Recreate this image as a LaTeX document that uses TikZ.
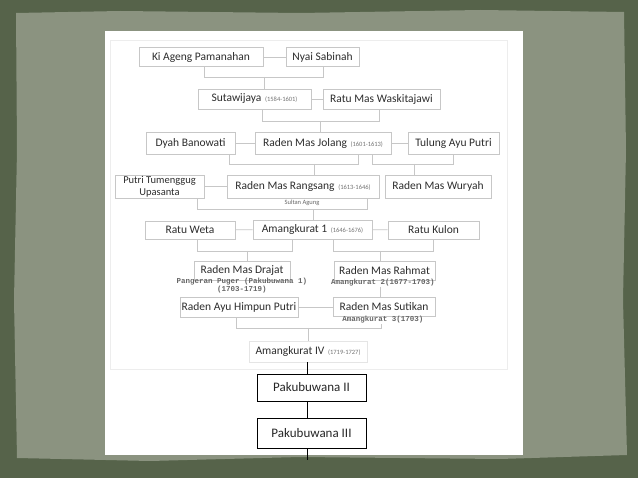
\documentclass[tikz,border=0pt]{standalone}
\usepackage{fontspec}
\setmainfont{Carlito}
\newfontfamily\notefont{Liberation Mono}
\definecolor{bgdark}{RGB}{86,99,74}
\definecolor{bgpanel}{RGB}{139,147,128}
\definecolor{txtgray}{RGB}{45,45,45}
\tikzset{
  person/.style = {draw=black!22, line width=0.8pt, fill=white, text=txtgray,
                   minimum width=#1, minimum height=19pt, inner sep=0pt,
                   font=\fontsize{11.5}{12}\selectfont},
  person/.default = 90pt,
  link/.style = {draw=black!22, line width=0.8pt},
  note/.style = {text=black!60, inner sep=0pt, align=center,
                 font=\notefont\bfseries\fontsize{7.5}{6.5}\selectfont},
  pbox/.style = {draw=black, line width=0.9pt, fill=white, text=black!85,
                 minimum width=109pt, inner sep=0pt,
                 font=\fontsize{13}{14}\selectfont}
}

\begin{document}
\begin{tikzpicture}[x=1pt,y=-1pt]
	\def\yr#1{{\fontsize{6.5}{7}\selectfont\color{black!55}\,(#1)}}

	\useasboundingbox (0,0) rectangle (638,478);

	% Background
	\fill[bgdark] (0,0) rectangle (638,478);
	\fill[bgpanel] (16,13) -- (120,11) -- (300,13) -- (480,10) -- (624,12) -- (626,150)
		-- (623,300) -- (627,455) -- (500,459) -- (300,457) -- (150,461) -- (17,458)
		-- (14,300) -- (17,150) -- cycle;
	\fill[white] (105,31) rectangle (523,455);
	\draw[black!7] (110,40) rectangle (507,369);

	% Ki Ageng Pamanahan
	\node[person=124pt] (ki) at (201,57) {Ki Ageng Pamanahan};
	\node[person=73pt] (nyai) at (322.5,57) {Nyai Sabinah};
	\draw[link] (ki) -- (nyai);

	% Sutawijaya
	\node[person=113pt, minimum height=20pt] (suta) at (254.5,99) {Sutawijaya \yr{1584-1601}};
	\node[person=117pt, minimum height=20pt] (wask) at (381.5,99) {Ratu Mas Waskitajawi};
	\draw[link] (suta) -- (wask);
	\coordinate (j1l) at (204,77);
	\coordinate (j1r) at (323,77);
	\coordinate (j1) at (264,77);
	\draw[link] (j1l |- ki.south) -- (j1l) -- (j1r) -- (j1r |- nyai.south);
	\draw[link] (j1) -- (j1 |- suta.north);

	% Raden Mas Jolang
	\node[person=89pt, minimum height=22pt] (dyah) at (190.5,143) {Dyah Banowati};
	\node[person=136pt, minimum height=22pt] (jolang) at (323,143) {Raden Mas Jolang \yr{1601-1613}};
	\node[person=91pt, minimum height=22pt] (tulung) at (453.5,143) {Tulung Ayu Putri};
	\draw[link] (dyah) -- (jolang);
	\draw[link] (jolang) -- (tulung);
	\coordinate (j2l) at (262,121);
	\coordinate (j2r) at (379,121);
	\coordinate (j2) at (320,121);
	\draw[link] (j2l |- suta.south) -- (j2l) -- (j2r) -- (j2r |- wask.south);
	\draw[link] (j2) -- (j2 |- jolang.north);

	% Raden Mas Rangsang
	\node[person=89pt, minimum height=23pt, align=center, font=\fontsize{10.5}{12}\selectfont]
		(putri) at (159.5,186.5) {Putri Tumenggug\\Upasanta};
	\node[person=152pt, minimum height=23pt] (rangsang) at (303,186.5) {Raden Mas Rangsang \yr{1613-1646}};
	\node[person=106pt, minimum height=23pt] (wuryah) at (438,186.5) {Raden Mas Wuryah};
	\node[inner sep=0pt, text=black!60, font=\fontsize{6.5}{7}\selectfont] (sultan) at (302,203) {Sultan Agung};
	\draw[link] (putri) -- (rangsang);
	\coordinate (j3l) at (229,164);
	\coordinate (j3r) at (358,164);
	\coordinate (j3) at (314,164);
	\draw[link] (j3l |- dyah.south) -- (j3l) -- (j3r) -- (j3r |- jolang.south);
	\draw[link] (j3) -- (j3 |- rangsang.north);
	\coordinate (j4l) at (372,164);
	\coordinate (j4r) at (453,164);
	\coordinate (j4) at (414,164);
	\draw[link] (j4l |- jolang.south) -- (j4l) -- (j4r) -- (j4r |- tulung.south);
	\draw[link] (j4) -- (j4 |- wuryah.north);

	% Amangkurat 1
	\node[person=90pt, minimum height=18pt] (weta) at (190,230) {Ratu Weta};
	\node[person=119pt] (am1) at (312.5,229.5) {Amangkurat 1 \yr{1646-1676}};
	\node[person=91pt, minimum height=18pt] (kulon) at (433.5,230) {Ratu Kulon};
	\draw[link] (weta) -- (am1);
	\draw[link] (am1) -- (kulon);
	\coordinate (j5l) at (197,209);
	\coordinate (j5r) at (367,209);
	\coordinate (j5) at (313,209);
	\draw[link] (j5l |- putri.south) -- (j5l) -- (j5r) -- (j5r |- rangsang.south);
	\draw[link] (j5) -- (j5 |- am1.north);

	% Raden Mas Drajat, Raden Mas Rahmat
	\node[person=96pt] (drajat) at (242,270.5) {Raden Mas Drajat};
	\node[person=101pt] (rahmat) at (384.5,270.5) {Raden Mas Rahmat};
	\node[note] (puger) at (242,286) {Pangeran Puger (Pakubuwana 1)\\(1703-1719)};
	\node[note] (am2) at (383,283) {Amangkurat 2(1677-1703)};
	\coordinate (j6l) at (197,251);
	\coordinate (j6r) at (292,251);
	\coordinate (j6) at (247,251);
	\draw[link] (j6l |- weta.south) -- (j6l) -- (j6r) -- (j6r |- am1.south);
	\draw[link] (j6) -- (j6 |- drajat.north);
	\coordinate (j7l) at (333,251);
	\coordinate (j7r) at (433,251);
	\coordinate (j7) at (380,251);
	\draw[link] (j7l |- am1.south) -- (j7l) -- (j7r) -- (j7r |- kulon.south);
	\draw[link] (j7) -- (j7 |- rahmat.north);

	% Raden Ayu Himpun Putri, Raden Mas Sutikan
	\node[person=118pt, minimum height=20pt] (himpun) at (239,307) {Raden Ayu Himpun Putri};
	\node[person=102pt] (sutikan) at (384,307) {Raden Mas Sutikan};
	\node[note] (am3) at (383,320) {Amangkurat 3(1703)};
	\draw[link] (himpun) -- (sutikan);
	\draw[link] (j7 |- am2.south) -- (j7 |- sutikan.north);

	% Amangkurat IV
	\node[person=118pt, minimum height=21pt, draw=black!10] (am4) at (308,351.5) {Amangkurat IV \yr{1719-1727}};
	\coordinate (j8l) at (236,328);
	\coordinate (j8r) at (381,328);
	\coordinate (j8) at (308,328);
	\draw[link] (j8l |- himpun.south) -- (j8l) -- (j8r) -- (j8r |- am3.south);
	\draw[link] (j8) -- (j8 |- am4.north);

	% Pakubuwana
	\node[pbox, minimum height=27pt] (pb2) at (311.5,387.5) {Pakubuwana II};
	\node[pbox, minimum height=30pt] (pb3) at (311.5,433) {Pakubuwana III};
	\coordinate (pbend) at (307,460);
	\draw[black, line width=1pt] (pbend |- am4.south) -- (pbend |- pb2.north);
	\draw[black, line width=1pt] (pbend |- pb2.south) -- (pbend |- pb3.north);
	\draw[black, line width=1pt] (pbend |- pb3.south) -- (pbend);

\end{tikzpicture}
\end{document}
